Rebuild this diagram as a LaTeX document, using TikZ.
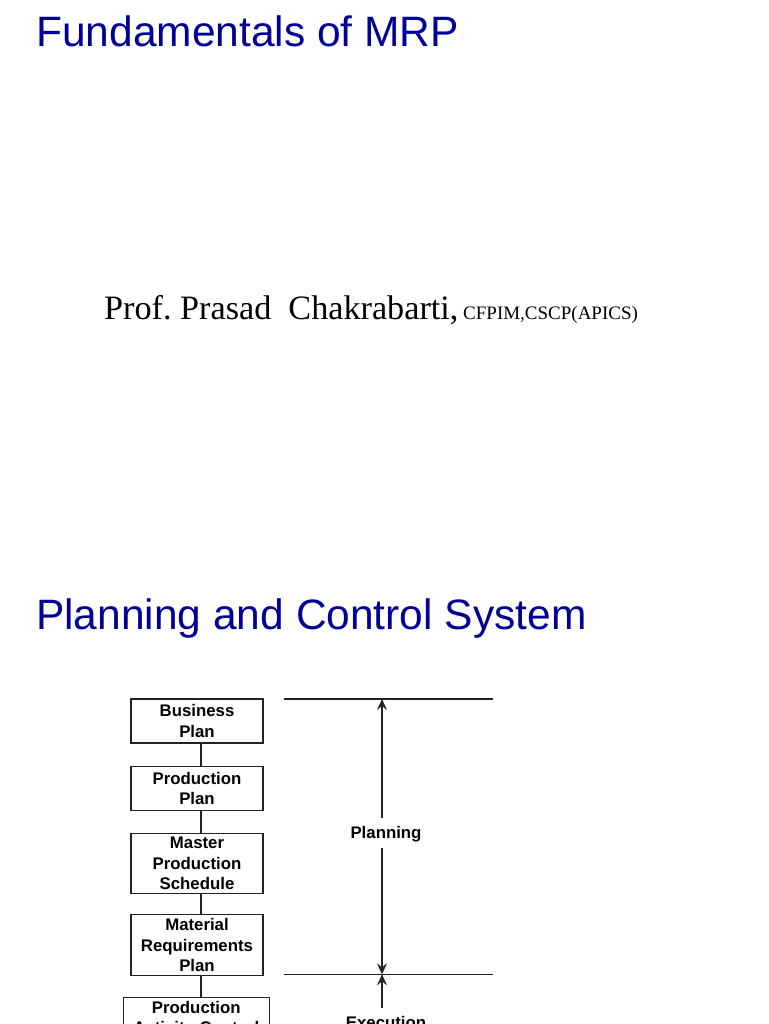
\documentclass[tikz,border=0pt]{standalone}
\usepackage{fontspec}
\setmainfont{Liberation Sans}
\newfontfamily\profserif{Liberation Serif}
\usetikzlibrary{arrows.meta}
\definecolor{titleblue}{RGB}{0,0,150}
\definecolor{linegray}{RGB}{35,35,35}
\frenchspacing
\begin{document}
\begin{tikzpicture}[x=1pt,y=-1pt,
  title/.style={anchor=base west,inner sep=0pt,text=titleblue,font=\fontsize{42.5}{48}\selectfont},
  stagebox/.style={draw=linegray,line width=1.3pt,align=center,inner sep=1pt,
    font=\fontsize{16.8}{20.5}\selectfont\bfseries,text width=#1},
  stagebox/.default=130pt,
  lbl/.style={inner sep=1pt,font=\fontsize{16.8}{20.5}\selectfont\bfseries},
  conn/.style={draw=linegray,line width=1.3pt},
  arr/.style={draw=linegray,line width=1.3pt,-{Stealth[length=11pt,width=10pt,inset=4pt]}}]
\useasboundingbox (0,0) rectangle (768,1024);
\clip (0,0) rectangle (768,1024);
\fill[white] (0,0) rectangle (768,1024);

\node[title] (t1) at (36,47) {Fundamentals of MRP};
\node[anchor=base west,inner sep=0pt,font=\profserif\fontsize{34.2}{36}\selectfont] (prof) at (104,319)
  {Prof. Prasad\ \ Chakrabarti,{\fontsize{19}{20}\selectfont\ CFPIM,CSCP(APICS)}};
\node[title] (t2) at (36,629) {Planning and Control System};

% boxes
\node[stagebox=130pt,minimum height=44pt] (bp) at (197,721) {Business\\Plan};
\node[stagebox=130pt,minimum height=44pt] (pp) at (197,788.5) {Production\\Plan};
\node[stagebox=130pt,minimum height=60pt] (mps) at (197,863.5) {Master\\Production\\Schedule};
\node[stagebox=130pt,minimum height=61pt] (mrp) at (197,945) {Material\\Requirements\\Plan};
\node[stagebox=144pt,minimum height=44pt,anchor=north] (pac) at (196.3,996.7) {Production\\Activity Control};

\coordinate (cx) at (201,0);
\draw[conn] (bp.south -| cx) -- (pp.north -| cx);
\draw[conn] (pp.south -| cx) -- (mps.north -| cx);
\draw[conn] (mps.south -| cx) -- (mrp.north -| cx);
\draw[conn] (mrp.south -| cx) -- (pac.north -| cx);

% right side
\coordinate (tl) at (284,699);
\coordinate (tr) at (493,699);
\coordinate (bl) at (284,974.3);
\coordinate (br) at (493,974.3);
\draw[conn] (tl) -- (tr);
\draw[conn] (bl) -- (br);
\node[lbl] (plan) at (386,834) {Planning};
\node[lbl,anchor=north] (exec) at (386,1015.5) {Execution};
\coordinate (pt) at (382,818);
\coordinate (pb) at (382,848);
\coordinate (eb) at (382,1008);
\draw[arr] (pt) -- (pt |- tl);
\draw[arr] (pb) -- (pb |- bl);
\draw[arr] (eb) -- (eb |- bl);
\end{tikzpicture}
\end{document}
